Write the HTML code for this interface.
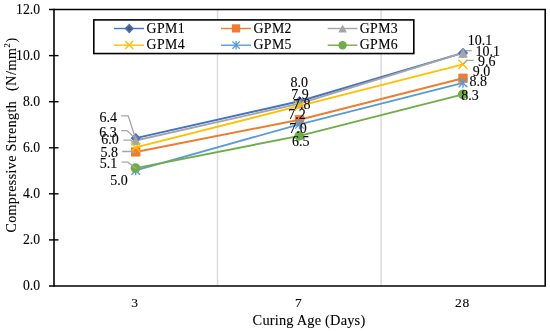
<!DOCTYPE html>
<html><head><meta charset="utf-8">
<style>
html,body{margin:0;padding:0;background:#fff;}
svg{display:block;will-change:transform;}
text{font-family:"Liberation Serif",serif;fill:#000;stroke:#000;stroke-width:0.1px;}
</style></head>
<body>
<svg width="550" height="331" viewBox="0 0 550 331">
<rect x="0" y="0" width="550" height="331" fill="#fff"/>
<!-- gridlines -->
<line x1="217.5" y1="9.6" x2="217.5" y2="286" stroke="#dcdcdc" stroke-width="1.5"/>
<line x1="381.1" y1="9.6" x2="381.1" y2="286" stroke="#dcdcdc" stroke-width="1.5"/>
<!-- plot border -->
<path d="M545.2 9.5 V286" fill="none" stroke="#000" stroke-width="1.6"/>
<line x1="54" y1="8.8" x2="54" y2="286.8" stroke="#000" stroke-width="1.6"/>
<line x1="49" y1="286" x2="546" y2="286" stroke="#000" stroke-width="1.6"/>
<line x1="49" y1="9.45" x2="546" y2="9.45" stroke="#000" stroke-width="1.4"/>
<!-- y ticks -->
<g stroke="#000" stroke-width="1.4">
<line x1="49" y1="55.6" x2="58.5" y2="55.6"/>
<line x1="49" y1="101.7" x2="58.5" y2="101.7"/>
<line x1="49" y1="147.8" x2="58.5" y2="147.8"/>
<line x1="49" y1="193.8" x2="58.5" y2="193.8"/>
<line x1="49" y1="239.9" x2="58.5" y2="239.9"/>
</g>
<!-- y labels -->
<g font-size="13.7" text-anchor="end">
<text x="40" y="13.8">12.0</text>
<text x="40" y="59.8">10.0</text>
<text x="40" y="105.9">8.0</text>
<text x="40" y="151.8">6.0</text>
<text x="40" y="198">4.0</text>
<text x="40" y="244">2.0</text>
<text x="40" y="290">0.0</text>
</g>
<!-- x labels -->
<g font-size="13.5">
<text x="134.6" y="306.7" text-anchor="middle">3</text>
<text x="298.3" y="306.6" text-anchor="middle">7</text>
<text x="454.9" y="306.7" letter-spacing="0.9">28</text>
</g>
<!-- axis titles -->
<text x="252.6" y="324.6" font-size="14.4" textLength="112.6" lengthAdjust="spacing">Curing Age (Days)</text>
<text transform="translate(15.6 232.5) rotate(-90)" font-size="14" textLength="131.2" lengthAdjust="spacing">Compressive Strength</text>
<text transform="translate(15.6 90.9) rotate(-90)" font-size="14" letter-spacing="0.6">(N/mm<tspan font-size="8.5" dy="-5.5">2</tspan><tspan dy="5.5">)</tspan></text>

<!-- series lines -->
<g fill="none" stroke-width="1.9" stroke-linejoin="round">
<polyline stroke="#4472C4" points="135.7,138.14 299.5,101.28 463.0,52.90"/>
<polyline stroke="#ED7D31" points="135.7,151.97 299.5,119.71 463.0,78.24"/>
<polyline stroke="#A5A5A5" points="135.7,140.45 299.5,103.58 463.0,52.90"/>
<polyline stroke="#FFC000" points="135.7,147.36 299.5,105.89 463.0,64.42"/>
<polyline stroke="#5B9BD5" points="135.7,170.40 299.5,124.32 463.0,82.85"/>
<polyline stroke="#70AD47" points="135.7,168.10 299.5,135.84 463.0,94.37"/>
</g>
<!-- markers -->
<g fill="#7f7f7f" stroke="#4472C4" stroke-width="1.5" stroke-linejoin="miter">
<path d="M135.7 134.04 L139.79999999999998 138.14 L135.7 142.24 L131.6 138.14Z"/>
<path d="M299.5 97.18 L303.6 101.28 L299.5 105.38 L295.4 101.28Z"/>
<path d="M463.0 48.80 L467.1 52.90 L463.0 57.00 L458.9 52.90Z"/>
</g>
<g fill="#ED7D31">
<rect x="131.00" y="147.37" width="9.4" height="9.2"/>
<rect x="294.80" y="115.11" width="9.4" height="9.2"/>
<rect x="458.30" y="73.64" width="9.4" height="9.2"/>
</g>
<g fill="#A5A5A5">
<path d="M135.7 135.65 L140.5 145.25 L130.89999999999998 145.25Z"/>
<path d="M299.5 98.78 L304.3 108.38 L294.7 108.38Z"/>
<path d="M463.0 48.10 L467.8 57.70 L458.2 57.70Z"/>
</g>
<g stroke="#FFC000" stroke-width="1.4" fill="none">
<path d="M131.1 142.76 L140.29999999999998 151.96 M140.29999999999998 142.76 L131.1 151.96"/>
<path d="M294.9 101.29 L304.1 110.49 M304.1 101.29 L294.9 110.49"/>
<path d="M458.4 59.82 L467.6 69.02 M467.6 59.82 L458.4 69.02"/>
</g>
<g stroke="#5B9BD5" stroke-width="1.4" fill="none">
<path d="M131.39999999999998 166.10 L140.0 174.70 M140.0 166.10 L131.39999999999998 174.70 M135.7 165.50 V175.30"/>
<path d="M295.2 120.02 L303.8 128.62 M303.8 120.02 L295.2 128.62 M299.5 119.42 V129.22"/>
<path d="M458.7 78.55 L467.3 87.15 M467.3 78.55 L458.7 87.15 M463.0 77.95 V87.75"/>
</g>
<g fill="#70AD47">
<circle cx="135.5" cy="168.10" r="4.9"/>
<circle cx="299.3" cy="135.84" r="4.9"/>
<circle cx="462.8" cy="94.37" r="4.9"/>
</g>

<!-- leader lines -->
<g stroke="#A6A6A6" stroke-width="1.3" fill="none" stroke-linejoin="round">
<polyline points="121.2,115.8 128.2,115.8 135.2,137.5"/>
<polyline points="121.2,130.6 127.1,130.6 134,137.2"/>
<polyline points="123.4,140.1 130.3,140.1 134,143"/>
<polyline points="122.2,151.5 131.2,151.5 135.5,152.7"/>
<polyline points="121.6,162.1 127.6,162.1 136,168.4"/>
<polyline points="465.9,50.7 471.8,50.7"/>
<polyline points="463.2,64 466.8,60.4 473.6,60.4"/>
</g>

<!-- data labels -->
<g class="dl" font-size="14" text-anchor="middle">
<text x="108.25" y="122.0">6.4</text>
<text x="107.95" y="136.5">6.3</text>
<text x="110.10" y="144.3">6.0</text>
<text x="109.15" y="156.8">5.8</text>
<text x="108.55" y="167.7">5.1</text>
<text x="118.95" y="184.7">5.0</text>
<text x="299.30" y="87.2">8.0</text>
<text x="299.95" y="98.9">7.9</text>
<text x="301.75" y="109.2">7.8</text>
<text x="296.95" y="118.6">7.2</text>
<text x="298.10" y="133.0">7.0</text>
<text x="300.75" y="145.8">6.5</text>
<text x="480.10" y="45.3">10.1</text>
<text x="487.75" y="56.1">10.1</text>
<text x="486.70" y="65.6">9.6</text>
<text x="481.60" y="76.1">9.0</text>
<text x="478.20" y="86.3">8.8</text>
<text x="470.00" y="99.9">8.3</text>
</g>

<!-- legend -->
<rect x="93.8" y="19.9" width="320" height="33.65" fill="#fff" stroke="#000" stroke-width="1.6"/>
<g stroke-width="1.4" fill="none">
<line x1="114" y1="28.5" x2="144" y2="28.5" stroke="#4472C4"/>
<line x1="221" y1="28.5" x2="251" y2="28.5" stroke="#ED7D31"/>
<line x1="327.7" y1="28.5" x2="357.5" y2="28.5" stroke="#A5A5A5"/>
<line x1="114" y1="45.2" x2="144" y2="45.2" stroke="#FFC000"/>
<line x1="221" y1="45.2" x2="251" y2="45.2" stroke="#5B9BD5"/>
<line x1="327.7" y1="45.2" x2="357.5" y2="45.2" stroke="#70AD47"/>
</g>
<path d="M129.3 24.7 l3.7 3.8 l-3.7 3.8 l-3.7 -3.8z" fill="#595959" stroke="#4472C4" stroke-width="1.5"/>
<rect x="231.9" y="24.3" width="8.3" height="8.2" fill="#ED7D31"/>
<path d="M342.6 24.4 l4.3 8.2 h-8.6z" fill="#A5A5A5"/>
<path d="M125.2 41.1 l8 8 m0 -8 l-8 8" stroke="#FFC000" stroke-width="1.4"/>
<path d="M232.4 41.4 l7.4 7.4 m0 -7.4 l-7.4 7.4 M236.1 40.9 v8.6" stroke="#5B9BD5" stroke-width="1.3"/>
<circle cx="342.6" cy="45.3" r="4.2" fill="#70AD47"/>
<g font-size="13.8">
<text x="146.6" y="32.8" textLength="38" lengthAdjust="spacing">GPM1</text>
<text x="253.5" y="32.8" textLength="38" lengthAdjust="spacing">GPM2</text>
<text x="359.7" y="32.8" textLength="38" lengthAdjust="spacing">GPM3</text>
<text x="146.6" y="48.9" textLength="38" lengthAdjust="spacing">GPM4</text>
<text x="253.5" y="48.9" textLength="38" lengthAdjust="spacing">GPM5</text>
<text x="359.7" y="48.9" textLength="38" lengthAdjust="spacing">GPM6</text>
</g>
</svg>
</body></html>
